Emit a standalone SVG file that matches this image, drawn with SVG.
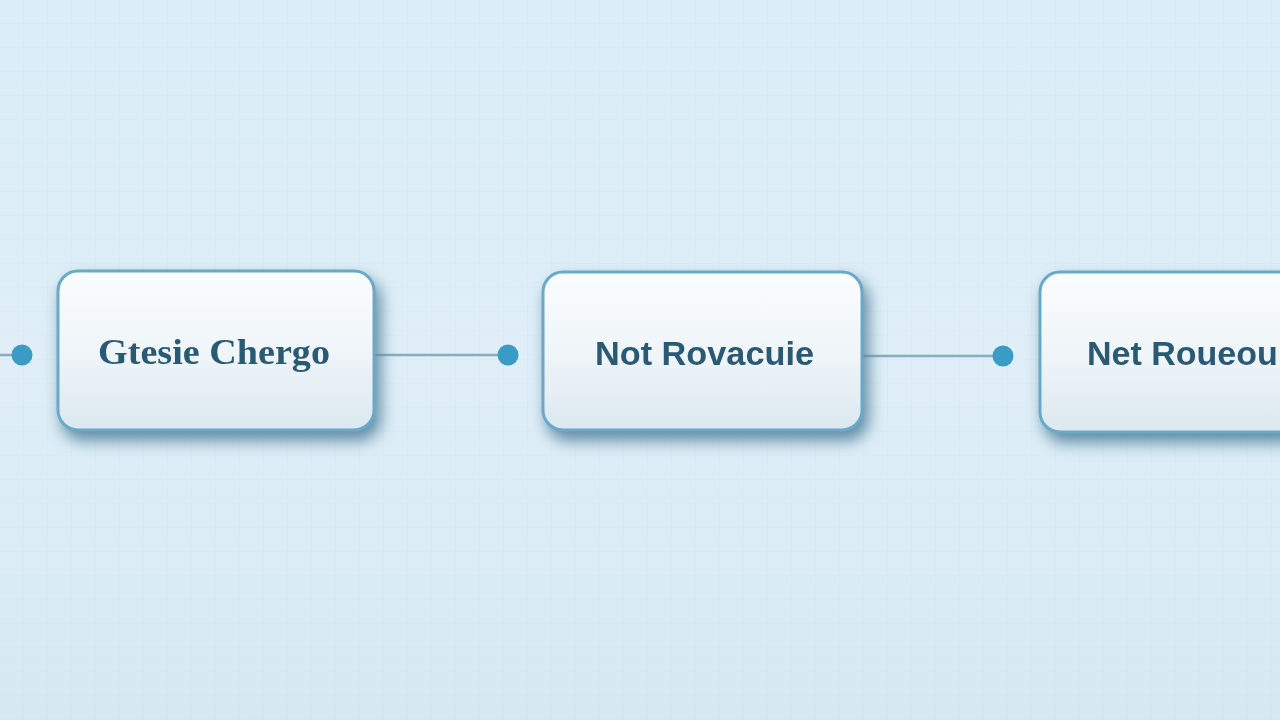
<svg xmlns="http://www.w3.org/2000/svg" width="1280" height="720" viewBox="0 0 1280 720">
<defs>
<linearGradient id="bg" x1="0" y1="0" x2="0" y2="1">
<stop offset="0" stop-color="#daedf8"/>
<stop offset="0.5" stop-color="#dfeef7"/>
<stop offset="1" stop-color="#d6e9f3"/>
</linearGradient>
<linearGradient id="boxfill" x1="0" y1="0" x2="0" y2="1">
<stop offset="0" stop-color="#fafdfe"/>
<stop offset="0.55" stop-color="#eef4f8"/>
<stop offset="1" stop-color="#dbe8ef"/>
</linearGradient>
<pattern id="grid" width="24" height="24" patternUnits="userSpaceOnUse">
<path d="M24 0V24M0 24H24" fill="none" stroke="#c9e0ec" stroke-width="1" opacity="0.35"/>
</pattern>
<filter id="shadow" x="-10%" y="-20%" width="125%" height="160%">
<feGaussianBlur in="SourceAlpha" stdDeviation="8"/>
<feOffset dx="5" dy="9" result="b"/>
<feComponentTransfer><feFuncA type="linear" slope="0.3"/></feComponentTransfer>
<feFlood flood-color="#5b8aa3"/>
<feComposite operator="in" in2="b"/>
<feMerge><feMergeNode/><feMergeNode in="SourceGraphic"/></feMerge>
</filter>
</defs>
<style>
.box{fill:url(#boxfill);stroke:#6aaac8;stroke-width:3}
.lbl{fill:#2b5a73}
.serif{font-family:"Liberation Serif","DejaVu Serif",serif;font-size:35px;font-weight:bold}
.sans{font-family:"Liberation Sans","DejaVu Sans",sans-serif;font-weight:bold;font-size:34px}
.line{stroke:#86adc0;stroke-width:2.5;fill:none}
.dot{fill:#3a9cc4}
</style>
<rect width="1280" height="720" fill="url(#bg)"/>
<rect width="1280" height="720" fill="url(#grid)"/>
<g id="connectors">
<line class="line" x1="0" y1="355" x2="22" y2="355"/>
<line class="line" x1="374" y1="355" x2="508" y2="355"/>
<line class="line" x1="862" y1="356" x2="1003" y2="356"/>
<circle class="dot" cx="22" cy="355" r="10.5"/>
<circle class="dot" cx="508" cy="355" r="10.5"/>
<circle class="dot" cx="1003" cy="356" r="10.5"/>
</g>
<g id="node1" filter="url(#shadow)">
<rect class="box" x="58" y="271" width="316" height="159" rx="20"/>
<text class="lbl serif" x="98" y="364" textLength="232" lengthAdjust="spacingAndGlyphs">Gtesie Chergo</text>
</g>
<g id="node2" filter="url(#shadow)">
<rect class="box" x="543" y="272" width="319" height="158" rx="20"/>
<text class="lbl sans" x="595" y="365" textLength="219" lengthAdjust="spacingAndGlyphs">Not Rovacuie</text>
</g>
<g id="node3" filter="url(#shadow)">
<rect class="box" x="1040" y="272" width="300" height="160" rx="20"/>
<text class="lbl sans" x="1087" y="365">Net Roueou</text>
</g>
</svg>
